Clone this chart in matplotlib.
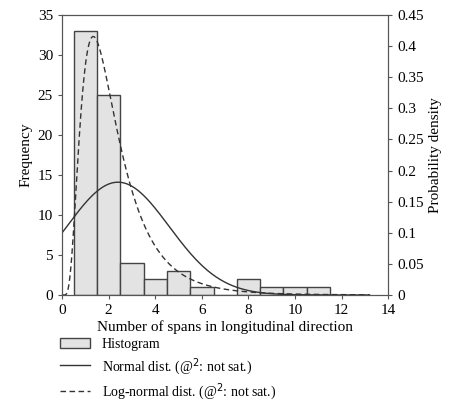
import numpy as np
import matplotlib
matplotlib.use("Agg")
import matplotlib.pyplot as plt

plt.rcParams['font.family'] = ['Liberation Serif', 'DejaVu Serif']

bin_centers = [1, 2, 3, 4, 5, 6, 7, 8, 9, 10, 11]
counts = [33, 25, 4, 2, 3, 1, 0, 2, 1, 1, 1]
normal_mu, normal_sigma = 2.4, 2.2
lognorm_mu, lognorm_sigma = 0.65, 0.6

fig = plt.figure(figsize=(4.74, 4.19), dpi=100)
ax = fig.add_axes([0.131, 0.296, 0.688, 0.668])
ax.bar(bin_centers, counts, width=1.0, color='#e3e3e3', edgecolor='#444444', linewidth=1.0, label='Histogram')
ax.set_xlim(0, 14)
ax.set_ylim(0, 35)
ax.set_xticks(range(0, 15, 2))
ax.set_yticks(range(0, 36, 5))
ax.set_xlabel('Number of spans in longitudinal direction', fontsize=11, labelpad=2)
ax.set_ylabel('Frequency', fontsize=11)

ax2 = ax.twinx()
x = np.linspace(0.001, 13.2, 600)
lpdf = np.exp(-(np.log(x) - lognorm_mu)**2 / (2 * lognorm_sigma**2)) / (x * lognorm_sigma * np.sqrt(2 * np.pi))
xn = np.linspace(0, 13.2, 600)
npdf = np.exp(-(xn - normal_mu)**2 / (2 * normal_sigma**2)) / (normal_sigma * np.sqrt(2 * np.pi))
l1, = ax2.plot(xn, npdf, color='#333333', lw=1.0, label='Normal dist. (@$^2$: not sat.)')
l2, = ax2.plot(x, lpdf, color='#333333', lw=1.0, ls=(0, (4, 2.5)), label='Log-normal dist. (@$^2$: not sat.)')
ax2.set_ylim(0, 0.45)
ax2.set_yticks(np.arange(0, 0.451, 0.05))
ax2.set_yticklabels(['0', '0.05', '0.1', '0.15', '0.2', '0.25', '0.3', '0.35', '0.4', '0.45'])
ax2.set_ylabel('Probability density', fontsize=11)

for a in (ax, ax2):
    a.tick_params(labelsize=11, direction='out', length=3, color='#555555')
    for s in a.spines.values():
        s.set_color('#555555')

h1, lab1 = ax.get_legend_handles_labels()
fig.legend(h1 + [l1, l2], lab1 + [l1.get_label(), l2.get_label()],
           loc='lower left', bbox_to_anchor=(0.1, 0.01), frameon=False,
           fontsize=10, handlelength=2.2, labelspacing=0.35)
fig.savefig('out.png', dpi=100)
